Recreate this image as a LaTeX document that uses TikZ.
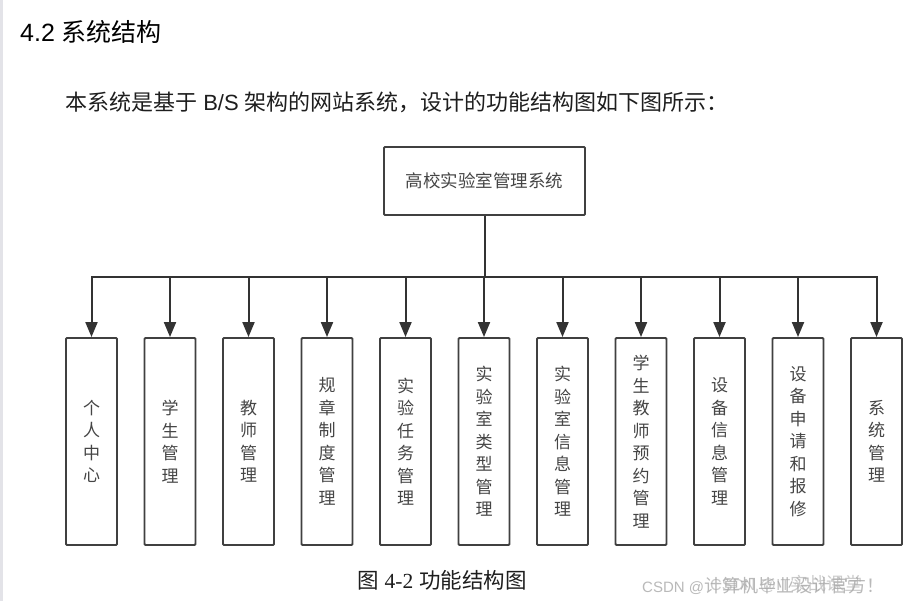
\documentclass[tikz,border=0pt]{standalone}
\usepackage{fontspec}
\setmainfont{Liberation Sans}
\newfontfamily\cjk{Noto Sans CJK SC}
\newfontfamily\serifl{Liberation Serif}
\usetikzlibrary{arrows.meta}
\definecolor{boxline}{HTML}{404040}
\definecolor{arrline}{HTML}{333333}
\definecolor{labtext}{HTML}{454545}
\definecolor{bodytext}{HTML}{1E1E1E}
\definecolor{wm}{HTML}{A8A8A8}
\definecolor{strip}{HTML}{E3E3E8}
\begin{document}
\begin{tikzpicture}[x=1pt,y=-1pt,
  modbox/.style={draw=boxline,line width=1.9pt,rounded corners=1pt,minimum width=51pt,minimum height=207pt,inner sep=0pt,align=center,text=labtext,font=\cjk\fontsize{17}{22.5}\selectfont},
  topbox/.style={draw=boxline,line width=1.9pt,rounded corners=1pt,minimum width=201pt,minimum height=68pt,inner sep=0pt,text=labtext,font=\cjk\fontsize{17.5}{20}\selectfont},
  arr/.style={draw=arrline,line width=2pt,-{Triangle[width=12pt,length=15pt]}},
  conn/.style={draw=arrline,line width=2pt}]
\useasboundingbox (0,0) rectangle (912,601);
\fill[white] (0,0) rectangle (912,601);
\fill[strip] (0,0) rectangle (3,601);
% heading
\node[anchor=base west,inner sep=0pt,text=black] (title) at (20,42) {\fontsize{25}{30}\selectfont 4.2 {\cjk 系统结构}};
\node[anchor=base west,inner sep=0pt,text=bodytext] (para) at (65,111) {\fontsize{22}{26}\selectfont{\cjk 本系统是基于} B/S {\cjk 架构的网站系统，设计的功能结构图如下图所示：}};
% top box
\node[topbox] (top) at (484.5,181) {高校实验室管理系统};
% module boxes
\foreach \i/\t in {0/{个\\人\\中\\心},1/{学\\生\\管\\理},2/{教\\师\\管\\理},3/{规\\章\\制\\度\\管\\理},4/{实\\验\\任\\务\\管\\理},5/{实\\验\\室\\类\\型\\管\\理},6/{实\\验\\室\\信\\息\\管\\理},7/{学\\生\\教\\师\\预\\约\\管\\理},8/{设\\备\\信\\息\\管\\理},9/{设\\备\\申\\请\\和\\报\\修},10/{系\\统\\管\\理}}{
  \node[modbox] (b\i) at (91.5+78.5*\i,441.5) {\t};
}
% bus
\coordinate (busL) at (91.5,277);
\coordinate (busR) at (876.5,277);
\coordinate (busM) at (484.5,277);
\draw[conn] (top.south) -- (busM);
\draw[conn,line cap=rect] (busL) -- (busR);
\foreach \i in {0,...,10}{
  \draw[arr] (b\i.north |- busL) -- (b\i.north);
}
% caption
\node[anchor=base,inner sep=0pt,text=bodytext] (cap) at (442,588) {\fontsize{21.5}{26}\selectfont{\cjk 图} {\serifl 4-2} {\cjk 功能结构图}};
% watermark (two overlapping marks, as in the reference)
\node[anchor=base west,inner sep=0pt,text=wm,opacity=0.8] (wm1) at (642,592) {\fontsize{15}{18}\selectfont CSDN @{\fontsize{18}{20}\selectfont\cjk 计算机毕业设计官方！}};
\node[anchor=base west,inner sep=0pt,text=wm,opacity=0.6] (wm2) at (710,590) {\fontsize{16}{18}\selectfont CSDN @IT{\fontsize{18}{20}\selectfont\cjk 实战课堂}};
\end{tikzpicture}
\end{document}
